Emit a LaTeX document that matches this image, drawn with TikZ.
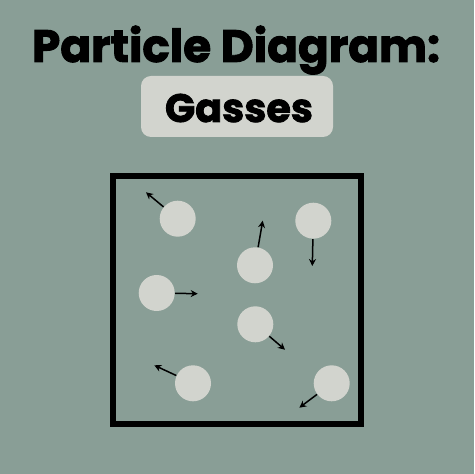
\documentclass[tikz,border=0pt]{standalone}
\usepackage{fontspec}
\usepackage{graphicx}
\setmainfont{Poppins}[BoldFeatures={FakeBold=2}]
\usetikzlibrary{arrows.meta}
\definecolor{bg}{RGB}{137,158,150}
\definecolor{pale}{RGB}{210,212,206}
\tikzset{
  particle/.style={circle,fill=pale,draw=none,minimum size=18pt,inner sep=0},
  arr/.style={line width=0.75pt,-{Stealth[length=3.5pt,width=3.5pt]}},
}
\begin{document}
\begin{tikzpicture}[x=0.5pt,y=-0.5pt]
\useasboundingbox (0,0) rectangle (474,474);
\fill[bg] (0,0) rectangle (474,474);
\node[anchor=base] (title) at (236,62) {\resizebox{204pt}{!}{\bfseries Particle Diagram:}};
\node[fill=pale,rounded corners=5pt,minimum width=96pt,minimum height=30.5pt,inner sep=0] (badge) at (237,106.5) {};
\node[anchor=base] (gasses) at (239,122) {\resizebox{74pt}{!}{\bfseries Gasses}};
\draw[line width=3pt] (113,176) rectangle (361,424);
\node[particle] (c1) at (177.7,218.7) {};
\node[particle] (c2) at (313.3,220.7) {};
\node[particle] (c3) at (255,265.3) {};
\node[particle] (c4) at (156.7,293) {};
\node[particle] (c5) at (255.3,324.3) {};
\node[particle] (c6) at (193,383.3) {};
\node[particle] (c7) at (331.7,383.3) {};
\coordinate (a1) at (146,192.3);
\coordinate (a2) at (312.3,266);
\coordinate (a3) at (262.7,220.7);
\coordinate (a4) at (197.7,293.7);
\coordinate (a5) at (285,349.7);
\coordinate (a6) at (154.3,365.3);
\coordinate (a7) at (299.3,407.7);
\draw[arr] (c1) -- (a1);
\draw[arr] (c2) -- (a2);
\draw[arr] (c3) -- (a3);
\draw[arr] (c4) -- (a4);
\draw[arr] (c5) -- (a5);
\draw[arr] (c6) -- (a6);
\draw[arr] (c7) -- (a7);
\end{tikzpicture}
\end{document}
